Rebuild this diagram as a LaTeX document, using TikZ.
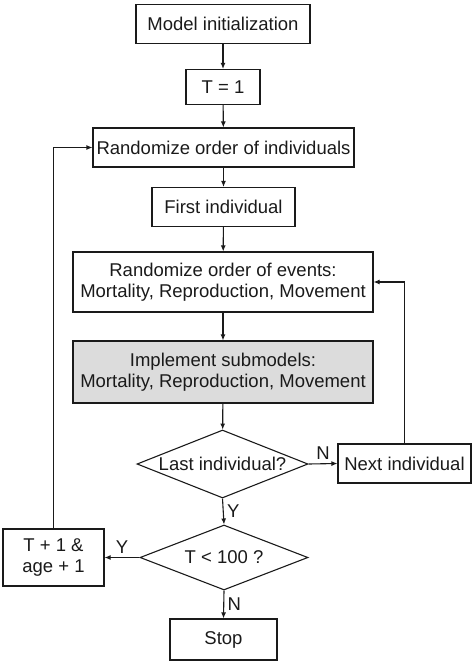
\documentclass[tikz,border=0pt]{standalone}
\usepackage{fontspec}
\setmainfont{Liberation Sans}
\usepackage{xcolor}
\usepackage{tikz}
\usetikzlibrary{positioning,arrows.meta,shapes.geometric}
\definecolor{FInk}{HTML}{1A1A1A}
\definecolor{FFill}{HTML}{DCDCDC}

\begin{document}
\begin{tikzpicture}[x=1pt,y=1pt,
    every node/.style={align=center, text=FInk, font=\fontsize{18.5}{21}\selectfont},
    box/.style={draw=FInk, line width=1.1pt, rectangle, inner sep=0pt},
    test/.style={draw=FInk, line width=1.1pt, diamond, aspect=2.5, inner sep=0pt},
    flow/.style={draw=FInk, line width=1.1pt, -{Latex[length=6pt,width=5pt]}}]
  \useasboundingbox (0,0) rectangle (474,-661);

  \node[box, minimum width=174, minimum height=39] (init)   at (223,-24)   {Model initialization};
  \node[box, minimum width=74,  minimum height=35] (t1)     at (223,-87)   {T = 1};
  \node[box, minimum width=261, minimum height=39] (randind) at (223.5,-147.5) {Randomize order of individuals};
  \node[box, minimum width=143, minimum height=39] (first)  at (223.5,-207) {First individual};
  \node[box, minimum width=300, minimum height=60] (randev) at (223,-282)  {Randomize order of events:\\Mortality, Reproduction, Movement};
  \node[box, fill=FFill, minimum width=300, minimum height=62] (impl) at (223,-372) {Implement submodels:\\Mortality, Reproduction, Movement};
  \node[test, minimum width=171, minimum height=68] (last)  at (222.5,-464) {Last individual?};
  \node[box, minimum width=133, minimum height=39] (next)   at (404.5,-463.5) {Next individual};
  \node[test, minimum width=168, minimum height=65] (tcheck) at (224,-557.5) {T < 100 ?};
  \node[box, minimum width=101, minimum height=57] (inc)    at (53.5,-557.5) {T + 1 \&\\age + 1};
  \node[box, minimum width=107, minimum height=41] (stop)   at (223.5,-639.5) {Stop};

  \draw[flow] (init) -- (t1);
  \draw[flow] (t1) -- (randind);
  \draw[flow] (randind) -- (first);
  \draw[flow] (first) -- (randev);
  \draw[flow] (randev) -- (impl);
  \draw[flow] (impl) -- (last);
  \draw[flow] (last.east) -- node[above] {N} (next.west);
  \draw[flow] (next.north) |- (randev.east);
  \draw[flow] (last.south) -- node[right] {Y} (tcheck.north);
  \draw[flow] (tcheck.west) -- node[above] {Y} (inc.east);
  \draw[flow] (tcheck.south) -- node[right] {N} (stop.north);
  \draw[flow] (inc.north) |- (randind.west);
\end{tikzpicture}
\end{document}
